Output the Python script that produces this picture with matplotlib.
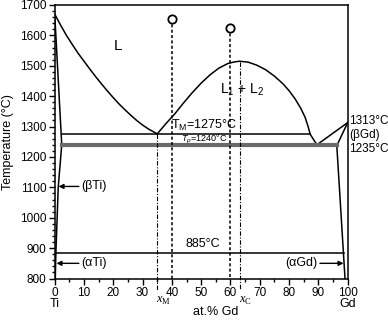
import matplotlib
matplotlib.use("Agg")
import matplotlib.pyplot as plt
from matplotlib.ticker import MultipleLocator

plt.rcParams['font.family'] = ['Liberation Sans', 'DejaVu Sans']
plt.rcParams['mathtext.fontset'] = 'custom'
plt.rcParams['mathtext.rm'] = 'Liberation Sans'
plt.rcParams['mathtext.it'] = 'Liberation Sans:italic'

# liquidus on the Ti side, down to the monotectic point x_M
liq_ti_x = [0, 2, 4, 6, 8, 10, 12, 14, 16, 18, 20, 22, 24, 26, 28, 30, 32, 35]
liq_ti_t = [1670, 1634, 1600, 1570, 1541, 1515, 1489, 1464, 1440, 1417, 1395,
            1374, 1355, 1337, 1320, 1305, 1292, 1276]

# miscibility gap (L1 + L2) and Gd-side liquidus
dome_x = [35, 38, 41, 44, 47, 50, 53, 56, 59, 61, 63, 66, 69, 72, 75, 78, 80,
          82, 84, 85.5, 86.5, 87.2]
dome_t = [1276, 1310, 1342, 1378, 1412, 1443, 1470, 1492, 1507, 1512, 1515,
          1512, 1502, 1487, 1466, 1440, 1418, 1392, 1360, 1330, 1300, 1275]
liq_gd_x = [87.2, 89.5, 100]
liq_gd_t = [1275, 1240, 1313]

# solidus / solvus lines at the two ends
sol_ti_x = [0, 2.4]
sol_ti_t = [1670, 1240]
solv_ti_x = [2.4, 1.2, 0.4, 0.2]
solv_ti_t = [1240, 1100, 885, 800]
sol_gd_x = [96.3, 100]
sol_gd_t = [1237, 1313]
solv_gd_x = [96.3, 99.1]
solv_gd_t = [1237, 800]

# invariant temperatures
t_m = 1275
t_p = 1238
t_885 = 885
x_m = 35
x_c = 63.2

# the two alloys that were studied (start temperature marked by a circle)
alloy_x = [40, 60]
alloy_t = [1655, 1625]

fig = plt.figure(figsize=(3.88, 3.22), dpi=100)
ax = fig.add_axes([0.141, 0.135, 0.755, 0.8495])

lw = 1.1
ax.plot(liq_ti_x, liq_ti_t, color='black', lw=lw)
ax.plot(dome_x, dome_t, color='black', lw=lw)
ax.plot(liq_gd_x, liq_gd_t, color='black', lw=lw)
ax.plot(sol_ti_x, sol_ti_t, color='black', lw=lw)
ax.plot(solv_ti_x, solv_ti_t, color='black', lw=lw)
ax.plot(sol_gd_x, sol_gd_t, color='black', lw=lw)
ax.plot(solv_gd_x, solv_gd_t, color='black', lw=lw)

ax.plot([2.4, 87.2], [t_m, t_m], color='black', lw=lw)
ax.plot([2.4, 96.3], [t_p, t_p], color='#6a6a6a', lw=3)
ax.plot([0.6, 98.9], [t_885, t_885], color='black', lw=lw)

# compositions
for xa, ta in zip(alloy_x, alloy_t):
    ax.plot([xa, xa], [ta, 800], color='black', lw=1.1, ls=(0, (2, 1.5)))
    ax.plot(xa, ta, 'o', ms=6, mfc='white', mec='black', mew=1.3, zorder=5)
ax.plot([x_m, x_m], [1276, 760], color='black', lw=0.8,
        ls=(0, (4, 1.5, 1, 1.5)), clip_on=False)
ax.plot([x_c, x_c], [1514, 765], color='black', lw=0.8,
        ls=(0, (4, 1.5, 1, 1.5)), clip_on=False)

ax.set_xlim(0, 100)
ax.set_ylim(800, 1700)
ax.xaxis.set_major_locator(MultipleLocator(10))
ax.xaxis.set_minor_locator(MultipleLocator(5))
ax.yaxis.set_major_locator(MultipleLocator(100))
ax.yaxis.set_minor_locator(MultipleLocator(20))
ax.tick_params(which='both', direction='out', labelsize=8.5, width=1, pad=2)
ax.tick_params(which='major', length=4)
ax.tick_params(which='minor', length=2.5)
for s in ax.spines.values():
    s.set_linewidth(1.1)

ax.set_ylabel('Temperature (°C)', fontsize=9, labelpad=4)
fig.text(0.555, 0.031, 'at.% Gd', fontsize=9, ha='center', va='center')

# labels
ax.text(21.7, 1565, 'L', fontsize=11, ha='center', va='center')
ax.text(64, 1420, 'L$_1$ + L$_2$', fontsize=10, ha='center', va='center')
ax.text(51, 1303, r'T$_{\mathrm{M}}$=1275°C', fontsize=9, ha='center',
        va='center')
ax.text(51, 1256, '$T_p$=1240°C', fontsize=6.5, ha='center', va='center')
ax.text(50.7, 915, '885°C', fontsize=9, ha='center', va='center')

kw = dict(fontsize=8.5, va='center', clip_on=False)
ax.text(100.6, 1318, '1313°C', ha='left', **kw)
ax.text(100.6, 1272, '(βGd)', ha='left', **kw)
ax.text(100.6, 1226, '1235°C', ha='left', **kw)

arrow = dict(arrowstyle='-|>', color='black', lw=1, mutation_scale=7,
             shrinkA=0, shrinkB=0)
ax.annotate('(αTi)', xy=(0.6, 850), xytext=(9.2, 850), fontsize=9,
            va='center', ha='left', arrowprops=arrow)
ax.annotate('(βTi)', xy=(1.3, 1103), xytext=(9.2, 1103), fontsize=9,
            va='center', ha='left', arrowprops=arrow)
ax.annotate('(αGd)', xy=(98.6, 850), xytext=(89.6, 850), fontsize=9,
            va='center', ha='right', arrowprops=arrow)

# element names and compositions under the axis
ax.text(0, 716, 'Ti', fontsize=9, ha='center', va='center', clip_on=False)
ax.text(100, 716, 'Gd', fontsize=9, ha='center', va='center', clip_on=False)
for xc, sub in [(x_m, 'M'), (x_c, 'C')]:
    ax.text(xc - 0.3, 734, 'x', fontsize=9, ha='left', va='center',
            family='Liberation Serif', style='italic', clip_on=False)
    ax.text(xc + 1.5, 724, sub, fontsize=6, ha='left', va='center',
            family='Liberation Serif', clip_on=False)

fig.savefig('out.png', dpi=100)
